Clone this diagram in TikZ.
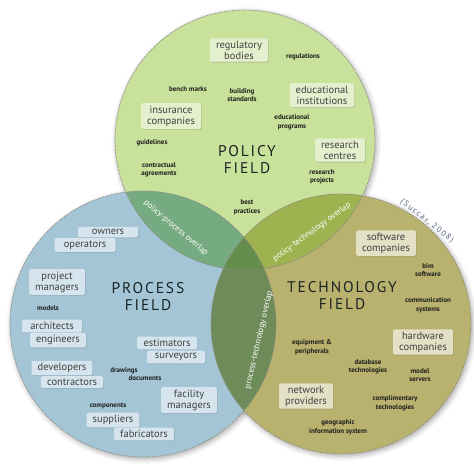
\documentclass[tikz,border=0pt]{standalone}
\usepackage{fontspec}
\setmainfont{PT Sans}
\newfontfamily\titlefont[LetterSpace=12]{PT Sans}
\newfontfamily\succarfont[LetterSpace=18]{PT Sans}
\usetikzlibrary{shadows,shadows.blur}
\definecolor{polcol}{HTML}{C8E19B}
\definecolor{procol}{HTML}{A3C5D6}
\definecolor{teccol}{HTML}{B8B26E}
\definecolor{ppcol}{HTML}{76AA80}
\definecolor{ptcol}{HTML}{9EB250}
\definecolor{prtcol}{HTML}{6E8C5A}
\definecolor{allcol}{HTML}{648C4B}
\definecolor{outcol}{HTML}{8A8A80}
\definecolor{boxtext}{HTML}{404040}
\definecolor{labtext}{HTML}{1E1E1E}
\definecolor{titletext}{HTML}{1B2424}
\definecolor{succcol}{HTML}{4E5E7A}
\begin{document}
\begin{tikzpicture}[x=1pt,y=-1pt,
  outl/.style={draw=outcol, line width=0.8pt, dash pattern=on 1.2pt off 1pt},
  boxbase/.style={rounded corners=1.5pt, inner xsep=6pt, inner ysep=2.5pt, align=center,
    text=boxtext, font=\fontsize{10.5}{11}\selectfont,
    drop shadow={opacity=0.22, shadow xshift=1pt, shadow yshift=-1.2pt}},
  polbox/.style={boxbase, fill=polcol!50!white},
  probox/.style={boxbase, fill=procol!45!white},
  tecbox/.style={boxbase, fill=teccol!40!white},
  lab/.style={align=center, text=labtext, inner sep=0pt, font=\fontsize{7}{8.5}\selectfont\bfseries},
  ttl/.style={align=center, text=titletext, inner sep=0pt, font=\fontsize{15.5}{17}\titlefont},
  ovl/.style={text=white, inner sep=0pt, font=\fontsize{8.5}{9}\selectfont}
]
\useasboundingbox (0,0) rectangle (474,467);

% shadows of the circles
\fill[white, blur shadow={shadow xshift=1.5pt, shadow yshift=-2pt, shadow blur radius=5pt, shadow opacity=35}] (245,140) circle[radius=130pt];
\fill[white, blur shadow={shadow xshift=1.5pt, shadow yshift=-2pt, shadow blur radius=5pt, shadow opacity=35}] (143,324) circle[radius=133pt];
\fill[white, blur shadow={shadow xshift=1.5pt, shadow yshift=-2pt, shadow blur radius=5pt, shadow opacity=35}] (341,324) circle[radius=130pt];

% base fills
\fill[polcol] (245,140) circle[radius=130pt];
\fill[procol] (143,324) circle[radius=133pt];
\fill[teccol] (341,324) circle[radius=130pt];

% overlaps
\begin{scope}
  \clip (245,140) circle[radius=130pt];
  \fill[ppcol] (143,324) circle[radius=133pt];
  \fill[ptcol] (341,324) circle[radius=130pt];
\end{scope}
\begin{scope}
  \clip (143,324) circle[radius=133pt];
  \fill[prtcol] (341,324) circle[radius=130pt];
\end{scope}
\begin{scope}
  \clip (245,140) circle[radius=130pt];
  \clip (143,324) circle[radius=133pt];
  \fill[allcol] (341,324) circle[radius=130pt];
\end{scope}

% outlines
\draw[outl] (245,140) circle[radius=130pt];
\draw[outl] (143,324) circle[radius=133pt];
\draw[outl] (341,324) circle[radius=130pt];

% overlap labels
\node[ovl, rotate=-40] (ovpp) at (176,228) {policy-process overlap};
\node[ovl, rotate=36] (ovpt) at (312,232) {policy-technology overlap};
\node[ovl, rotate=77] (ovprt) at (259,340) {process-technology overlap};

% policy field
\node[ttl] (poltitle) at (247,160) {POLICY\\FIELD};
\node[polbox] (regbod) at (239,50) {regulatory\\bodies};
\node[lab] (regul) at (303,57) {regulations};
\node[lab] (bench) at (188,89) {bench marks};
\node[lab] (build) at (242,95) {building\\standards};
\node[polbox] (eduinst) at (322,95) {educational\\institutions};
\node[polbox] (insur) at (171,116) {insurance\\companies};
\node[lab] (eduprog) at (292,122) {educational\\programs};
\node[lab] (guide) at (152,143) {guidelines};
\node[lab] (contr) at (159,170) {contractual\\agreements};
\node[polbox] (rescen) at (340,150) {research\\centres};
\node[lab] (resproj) at (322,177) {research\\projects};
\node[lab] (best) at (247,207) {best\\practices};

% process field
\node[ttl] (protitle) at (148,297) {PROCESS\\FIELD};
\node[probox, minimum width=60pt] (owners) at (108,232) {owners};
\node[probox, minimum width=61pt] (operators) at (85,245) {operators};
\node[probox] (projman) at (57,282) {project\\managers};
\node[lab] (models) at (48,308) {models};
\node[probox, minimum width=60pt] (architects) at (52,326) {architects};
\node[probox] (engineers) at (58,340) {engineers};
\node[probox] (developers) at (62,368) {developers};
\node[probox] (contractors) at (72,382) {contractors};
\node[lab] (drawings) at (124,371) {drawings};
\node[lab] (documents) at (145,378) {documents};
\node[probox, minimum width=60pt] (estimators) at (167,343) {estimators};
\node[probox, minimum width=58pt] (surveyors) at (176,357) {surveyors};
\node[probox] (facman) at (189,400) {facility\\managers};
\node[lab] (components) at (108,406) {components};
\node[probox] (suppliers) at (113,420) {suppliers};
\node[probox] (fabricators) at (144,434) {fabricators};

% technology field
\node[ttl] (tectitle) at (342,296) {TECHNOLOGY\\FIELD};
\node[text=succcol, inner sep=0pt, rotate=-38, font=\fontsize{8}{9}\succarfont] (succar) at (427,221) {(Succar, 2008)};
\node[tecbox] (softco) at (386,243) {software\\companies};
\node[lab] (bim) at (428,270) {bim\\software};
\node[lab] (comm) at (428,305) {communication\\systems};
\node[tecbox] (hardco) at (423,342) {hardware\\companies};
\node[lab] (modsrv) at (420,375) {model\\servers};
\node[lab] (equip) at (312,347) {equipment \&\\peripherals};
\node[lab] (dbtech) at (368,367) {database\\technologies};
\node[tecbox] (netprov) at (306,396) {network\\providers};
\node[lab] (complt) at (395,403) {complimentary\\technologies};
\node[lab] (geo) at (338,427) {geographic\\information system};
\end{tikzpicture}
\end{document}
